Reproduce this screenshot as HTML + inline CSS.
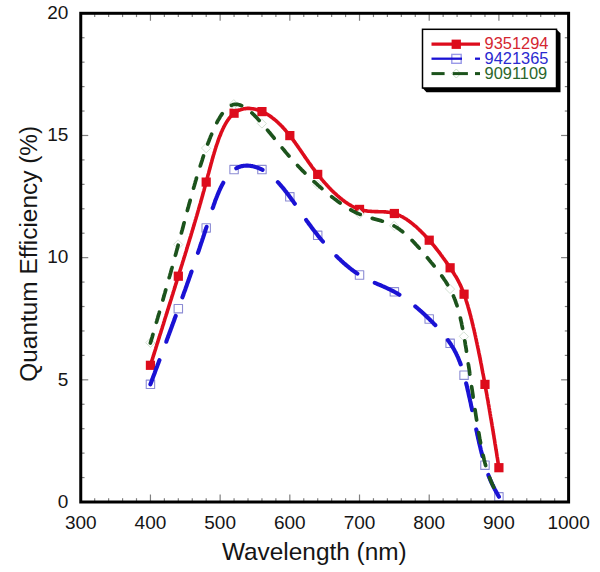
<!DOCTYPE html>
<html><head><meta charset="utf-8"><style>
html,body{margin:0;padding:0;background:#fff;}
svg{display:block;}
text{font-family:"Liberation Sans",sans-serif;}
</style></head><body>
<svg width="600" height="572" viewBox="0 0 600 572">
<rect width="600" height="572" fill="#fff"/>
<g stroke="#808080" stroke-width="1.2"><line x1="94.69" y1="502.00" x2="94.69" y2="498.20"/><line x1="94.69" y1="13.30" x2="94.69" y2="17.10"/><line x1="108.63" y1="502.00" x2="108.63" y2="498.20"/><line x1="108.63" y1="13.30" x2="108.63" y2="17.10"/><line x1="122.57" y1="502.00" x2="122.57" y2="498.20"/><line x1="122.57" y1="13.30" x2="122.57" y2="17.10"/><line x1="136.50" y1="502.00" x2="136.50" y2="498.20"/><line x1="136.50" y1="13.30" x2="136.50" y2="17.10"/><line x1="150.44" y1="502.00" x2="150.44" y2="494.50"/><line x1="150.44" y1="13.30" x2="150.44" y2="20.80"/><line x1="164.38" y1="502.00" x2="164.38" y2="498.20"/><line x1="164.38" y1="13.30" x2="164.38" y2="17.10"/><line x1="178.32" y1="502.00" x2="178.32" y2="498.20"/><line x1="178.32" y1="13.30" x2="178.32" y2="17.10"/><line x1="192.26" y1="502.00" x2="192.26" y2="498.20"/><line x1="192.26" y1="13.30" x2="192.26" y2="17.10"/><line x1="206.20" y1="502.00" x2="206.20" y2="498.20"/><line x1="206.20" y1="13.30" x2="206.20" y2="17.10"/><line x1="220.14" y1="502.00" x2="220.14" y2="494.50"/><line x1="220.14" y1="13.30" x2="220.14" y2="20.80"/><line x1="234.07" y1="502.00" x2="234.07" y2="498.20"/><line x1="234.07" y1="13.30" x2="234.07" y2="17.10"/><line x1="248.01" y1="502.00" x2="248.01" y2="498.20"/><line x1="248.01" y1="13.30" x2="248.01" y2="17.10"/><line x1="261.95" y1="502.00" x2="261.95" y2="498.20"/><line x1="261.95" y1="13.30" x2="261.95" y2="17.10"/><line x1="275.89" y1="502.00" x2="275.89" y2="498.20"/><line x1="275.89" y1="13.30" x2="275.89" y2="17.10"/><line x1="289.83" y1="502.00" x2="289.83" y2="494.50"/><line x1="289.83" y1="13.30" x2="289.83" y2="20.80"/><line x1="303.77" y1="502.00" x2="303.77" y2="498.20"/><line x1="303.77" y1="13.30" x2="303.77" y2="17.10"/><line x1="317.71" y1="502.00" x2="317.71" y2="498.20"/><line x1="317.71" y1="13.30" x2="317.71" y2="17.10"/><line x1="331.64" y1="502.00" x2="331.64" y2="498.20"/><line x1="331.64" y1="13.30" x2="331.64" y2="17.10"/><line x1="345.58" y1="502.00" x2="345.58" y2="498.20"/><line x1="345.58" y1="13.30" x2="345.58" y2="17.10"/><line x1="359.52" y1="502.00" x2="359.52" y2="494.50"/><line x1="359.52" y1="13.30" x2="359.52" y2="20.80"/><line x1="373.46" y1="502.00" x2="373.46" y2="498.20"/><line x1="373.46" y1="13.30" x2="373.46" y2="17.10"/><line x1="387.40" y1="502.00" x2="387.40" y2="498.20"/><line x1="387.40" y1="13.30" x2="387.40" y2="17.10"/><line x1="401.34" y1="502.00" x2="401.34" y2="498.20"/><line x1="401.34" y1="13.30" x2="401.34" y2="17.10"/><line x1="415.28" y1="502.00" x2="415.28" y2="498.20"/><line x1="415.28" y1="13.30" x2="415.28" y2="17.10"/><line x1="429.21" y1="502.00" x2="429.21" y2="494.50"/><line x1="429.21" y1="13.30" x2="429.21" y2="20.80"/><line x1="443.15" y1="502.00" x2="443.15" y2="498.20"/><line x1="443.15" y1="13.30" x2="443.15" y2="17.10"/><line x1="457.09" y1="502.00" x2="457.09" y2="498.20"/><line x1="457.09" y1="13.30" x2="457.09" y2="17.10"/><line x1="471.03" y1="502.00" x2="471.03" y2="498.20"/><line x1="471.03" y1="13.30" x2="471.03" y2="17.10"/><line x1="484.97" y1="502.00" x2="484.97" y2="498.20"/><line x1="484.97" y1="13.30" x2="484.97" y2="17.10"/><line x1="498.91" y1="502.00" x2="498.91" y2="494.50"/><line x1="498.91" y1="13.30" x2="498.91" y2="20.80"/><line x1="512.85" y1="502.00" x2="512.85" y2="498.20"/><line x1="512.85" y1="13.30" x2="512.85" y2="17.10"/><line x1="526.78" y1="502.00" x2="526.78" y2="498.20"/><line x1="526.78" y1="13.30" x2="526.78" y2="17.10"/><line x1="540.72" y1="502.00" x2="540.72" y2="498.20"/><line x1="540.72" y1="13.30" x2="540.72" y2="17.10"/><line x1="554.66" y1="502.00" x2="554.66" y2="498.20"/><line x1="554.66" y1="13.30" x2="554.66" y2="17.10"/><line x1="80.75" y1="477.56" x2="84.55" y2="477.56"/><line x1="568.60" y1="477.56" x2="564.80" y2="477.56"/><line x1="80.75" y1="453.13" x2="84.55" y2="453.13"/><line x1="568.60" y1="453.13" x2="564.80" y2="453.13"/><line x1="80.75" y1="428.69" x2="84.55" y2="428.69"/><line x1="568.60" y1="428.69" x2="564.80" y2="428.69"/><line x1="80.75" y1="404.26" x2="84.55" y2="404.26"/><line x1="568.60" y1="404.26" x2="564.80" y2="404.26"/><line x1="80.75" y1="379.82" x2="88.25" y2="379.82"/><line x1="568.60" y1="379.82" x2="561.10" y2="379.82"/><line x1="80.75" y1="355.39" x2="84.55" y2="355.39"/><line x1="568.60" y1="355.39" x2="564.80" y2="355.39"/><line x1="80.75" y1="330.95" x2="84.55" y2="330.95"/><line x1="568.60" y1="330.95" x2="564.80" y2="330.95"/><line x1="80.75" y1="306.52" x2="84.55" y2="306.52"/><line x1="568.60" y1="306.52" x2="564.80" y2="306.52"/><line x1="80.75" y1="282.08" x2="84.55" y2="282.08"/><line x1="568.60" y1="282.08" x2="564.80" y2="282.08"/><line x1="80.75" y1="257.65" x2="88.25" y2="257.65"/><line x1="568.60" y1="257.65" x2="561.10" y2="257.65"/><line x1="80.75" y1="233.22" x2="84.55" y2="233.22"/><line x1="568.60" y1="233.22" x2="564.80" y2="233.22"/><line x1="80.75" y1="208.78" x2="84.55" y2="208.78"/><line x1="568.60" y1="208.78" x2="564.80" y2="208.78"/><line x1="80.75" y1="184.35" x2="84.55" y2="184.35"/><line x1="568.60" y1="184.35" x2="564.80" y2="184.35"/><line x1="80.75" y1="159.91" x2="84.55" y2="159.91"/><line x1="568.60" y1="159.91" x2="564.80" y2="159.91"/><line x1="80.75" y1="135.48" x2="88.25" y2="135.48"/><line x1="568.60" y1="135.48" x2="561.10" y2="135.48"/><line x1="80.75" y1="111.04" x2="84.55" y2="111.04"/><line x1="568.60" y1="111.04" x2="564.80" y2="111.04"/><line x1="80.75" y1="86.61" x2="84.55" y2="86.61"/><line x1="568.60" y1="86.61" x2="564.80" y2="86.61"/><line x1="80.75" y1="62.17" x2="84.55" y2="62.17"/><line x1="568.60" y1="62.17" x2="564.80" y2="62.17"/><line x1="80.75" y1="37.74" x2="84.55" y2="37.74"/><line x1="568.60" y1="37.74" x2="564.80" y2="37.74"/></g>
<g fill="none" stroke-linejoin="round" stroke-linecap="round">
<path d="M150.4 365.3 L150.9 363.8 L151.4 362.3 L151.8 360.9 L152.3 359.4 L152.8 357.9 L153.2 356.4 L153.7 354.9 L154.2 353.4 L154.6 352.0 L155.1 350.5 L155.6 349.0 L156.0 347.5 L156.5 346.0 L156.9 344.5 L157.4 343.1 L157.9 341.6 L158.3 340.1 L158.8 338.6 L159.3 337.1 L159.7 335.6 L160.2 334.2 L160.7 332.7 L161.1 331.2 L161.6 329.7 L162.1 328.2 L162.5 326.7 L163.0 325.2 L163.5 323.8 L163.9 322.3 L164.4 320.8 L164.8 319.3 L165.3 317.8 L165.8 316.3 L166.2 314.8 L166.7 313.4 L167.2 311.9 L167.6 310.4 L168.1 308.9 L168.6 307.4 L169.0 305.9 L169.5 304.4 L170.0 302.9 L170.4 301.5 L170.9 300.0 L171.4 298.5 L171.8 297.0 L172.3 295.5 L172.8 294.0 L173.2 292.5 L173.7 291.0 L174.2 289.5 L174.6 288.1 L175.1 286.6 L175.5 285.1 L176.0 283.6 L176.5 282.1 L176.9 280.6 L177.4 279.1 L177.9 277.6 L178.3 276.1 L178.8 274.6 L179.3 273.1 L179.7 271.6 L180.2 270.1 L180.7 268.7 L181.1 267.2 L181.6 265.7 L182.1 264.2 L182.5 262.7 L183.0 261.2 L183.5 259.7 L183.9 258.2 L184.4 256.7 L184.9 255.2 L185.3 253.7 L185.8 252.2 L186.3 250.7 L186.7 249.1 L187.2 247.6 L187.6 246.1 L188.1 244.6 L188.6 243.1 L189.0 241.6 L189.5 240.1 L189.9 238.6 L190.4 237.1 L190.9 235.5 L191.3 234.0 L191.8 232.5 L192.2 231.0 L192.7 229.5 L193.2 227.9 L193.6 226.4 L194.1 224.9 L194.5 223.3 L195.0 221.8 L195.4 220.3 L195.9 218.7 L196.3 217.2 L196.8 215.7 L197.2 214.1 L197.7 212.6 L198.1 211.0 L198.6 209.5 L199.0 207.9 L199.5 206.4 L199.9 204.8 L200.4 203.3 L200.8 201.7 L201.2 200.1 L201.7 198.6 L202.1 197.0 L202.6 195.4 L203.0 193.8 L203.4 192.3 L203.9 190.7 L204.3 189.1 L204.7 187.5 L205.2 185.9 L205.6 184.4 L206.0 182.8 L206.4 181.2 L206.9 179.6 L207.3 178.0 L207.7 176.4 L208.1 174.8 L208.6 173.2 L209.0 171.6 L209.4 170.0 L209.9 168.4 L210.3 166.8 L210.7 165.2 L211.1 163.6 L211.6 162.0 L212.0 160.5 L212.4 158.9 L212.9 157.4 L213.3 155.8 L213.8 154.3 L214.2 152.8 L214.7 151.3 L215.1 149.8 L215.6 148.3 L216.0 146.8 L216.5 145.4 L217.0 144.0 L217.5 142.6 L218.0 141.2 L218.4 139.8 L218.9 138.4 L219.4 137.1 L220.0 135.8 L220.5 134.5 L221.0 133.2 L221.5 131.9 L222.1 130.7 L222.6 129.5 L223.2 128.3 L223.7 127.2 L224.3 126.1 L224.9 125.0 L225.5 123.9 L226.1 122.9 L226.7 121.9 L227.3 120.9 L227.9 120.0 L228.6 119.1 L229.2 118.2 L229.9 117.4 L230.6 116.6 L231.3 115.8 L232.0 115.1 L232.7 114.4 L233.4 113.7 L234.1 113.1 L234.9 112.6 L235.7 112.0 L236.4 111.6 L237.2 111.1 L238.0 110.7 L238.8 110.3 L239.6 110.0 L240.5 109.7 L241.3 109.4 L242.1 109.2 L243.0 109.0 L243.8 108.8 L244.7 108.7 L245.6 108.6 L246.4 108.5 L247.3 108.4 L248.2 108.4 L249.1 108.4 L250.0 108.5 L250.8 108.6 L251.7 108.7 L252.6 108.8 L253.5 108.9 L254.4 109.1 L255.3 109.3 L256.1 109.5 L257.0 109.8 L257.9 110.1 L258.8 110.4 L259.6 110.7 L260.5 111.0 L261.4 111.3 L262.2 111.7 L263.1 112.1 L263.9 112.5 L264.7 112.9 L265.6 113.4 L266.4 113.8 L267.2 114.3 L268.0 114.8 L268.8 115.3 L269.6 115.8 L270.4 116.4 L271.2 116.9 L272.0 117.5 L272.7 118.1 L273.5 118.7 L274.3 119.3 L275.0 119.9 L275.8 120.5 L276.5 121.2 L277.2 121.8 L278.0 122.5 L278.7 123.2 L279.4 123.9 L280.1 124.6 L280.8 125.3 L281.6 126.0 L282.3 126.8 L282.9 127.5 L283.6 128.3 L284.3 129.0 L285.0 129.8 L285.7 130.6 L286.3 131.3 L287.0 132.1 L287.7 132.9 L288.3 133.7 L289.0 134.5 L289.6 135.3 L290.3 136.2 L290.9 137.0 L291.5 137.8 L292.2 138.6 L292.8 139.5 L293.4 140.3 L294.0 141.2 L294.7 142.0 L295.3 142.9 L295.9 143.8 L296.5 144.6 L297.1 145.5 L297.7 146.4 L298.3 147.2 L298.9 148.1 L299.6 149.0 L300.2 149.9 L300.8 150.8 L301.4 151.7 L302.0 152.6 L302.6 153.5 L303.3 154.4 L303.9 155.3 L304.5 156.2 L305.1 157.2 L305.8 158.1 L306.4 159.0 L307.1 159.9 L307.7 160.9 L308.4 161.8 L309.0 162.7 L309.7 163.7 L310.4 164.6 L311.1 165.6 L311.7 166.5 L312.4 167.5 L313.1 168.4 L313.9 169.4 L314.6 170.4 L315.3 171.3 L316.0 172.3 L316.8 173.2 L317.6 174.2 L318.3 175.2 L319.1 176.1 L319.9 177.1 L320.7 178.1 L321.5 179.1 L322.3 180.0 L323.1 181.0 L324.0 182.0 L324.8 182.9 L325.7 183.9 L326.5 184.8 L327.4 185.8 L328.3 186.7 L329.1 187.6 L330.0 188.6 L330.9 189.5 L331.8 190.4 L332.7 191.3 L333.6 192.2 L334.5 193.0 L335.5 193.9 L336.4 194.7 L337.3 195.6 L338.3 196.4 L339.2 197.2 L340.2 198.0 L341.1 198.8 L342.1 199.5 L343.0 200.3 L344.0 201.0 L344.9 201.7 L345.9 202.4 L346.9 203.0 L347.8 203.7 L348.8 204.3 L349.8 204.9 L350.7 205.4 L351.7 206.0 L352.7 206.5 L353.7 207.0 L354.6 207.5 L355.6 207.9 L356.6 208.3 L357.6 208.7 L358.5 209.1 L359.5 209.4 L360.5 209.7 L361.4 210.0 L362.4 210.2 L363.4 210.4 L364.3 210.6 L365.3 210.8 L366.3 210.9 L367.2 211.0 L368.2 211.2 L369.2 211.3 L370.1 211.3 L371.1 211.4 L372.0 211.5 L373.0 211.5 L373.9 211.5 L374.9 211.6 L375.8 211.6 L376.8 211.6 L377.7 211.6 L378.7 211.7 L379.6 211.7 L380.6 211.7 L381.5 211.7 L382.4 211.8 L383.4 211.8 L384.3 211.9 L385.3 211.9 L386.2 212.0 L387.1 212.1 L388.1 212.2 L389.0 212.3 L389.9 212.5 L390.9 212.7 L391.8 212.8 L392.7 213.1 L393.7 213.3 L394.6 213.6 L395.5 213.9 L396.4 214.2 L397.4 214.5 L398.3 214.9 L399.2 215.3 L400.1 215.7 L401.0 216.2 L401.9 216.7 L402.9 217.1 L403.8 217.7 L404.7 218.2 L405.6 218.8 L406.5 219.3 L407.3 219.9 L408.2 220.5 L409.1 221.2 L410.0 221.8 L410.9 222.5 L411.7 223.2 L412.6 223.9 L413.5 224.6 L414.3 225.3 L415.2 226.0 L416.0 226.7 L416.9 227.5 L417.7 228.3 L418.5 229.0 L419.3 229.8 L420.2 230.6 L421.0 231.4 L421.8 232.2 L422.5 233.0 L423.3 233.8 L424.1 234.6 L424.9 235.4 L425.6 236.2 L426.4 237.0 L427.1 237.9 L427.9 238.7 L428.6 239.5 L429.3 240.3 L430.0 241.1 L430.7 241.9 L431.4 242.7 L432.1 243.5 L432.7 244.3 L433.4 245.1 L434.1 245.9 L434.7 246.7 L435.3 247.5 L436.0 248.3 L436.6 249.1 L437.2 249.9 L437.8 250.7 L438.4 251.4 L439.0 252.2 L439.6 253.0 L440.2 253.7 L440.7 254.5 L441.3 255.3 L441.9 256.0 L442.4 256.8 L442.9 257.5 L443.5 258.3 L444.0 259.0 L444.5 259.7 L445.1 260.5 L445.6 261.2 L446.1 261.9 L446.6 262.6 L447.1 263.3 L447.6 264.1 L448.1 264.8 L448.5 265.5 L449.0 266.2 L449.5 266.9 L449.9 267.5 L450.4 268.2 L450.9 268.9 L451.3 269.6 L451.8 270.2 L452.2 270.9 L452.7 271.6 L453.1 272.3 L453.5 272.9 L454.0 273.6 L454.4 274.3 L454.8 275.0 L455.2 275.6 L455.7 276.3 L456.1 277.0 L456.5 277.7 L456.9 278.4 L457.3 279.2 L457.7 279.9 L458.1 280.7 L458.5 281.4 L458.9 282.2 L459.3 283.0 L459.7 283.8 L460.1 284.6 L460.5 285.4 L460.9 286.3 L461.3 287.2 L461.6 288.1 L462.0 289.0 L462.4 289.9 L462.8 290.9 L463.2 291.9 L463.6 292.9 L464.0 293.9 L464.3 295.0 L464.7 296.1 L465.1 297.2 L465.5 298.3 L465.9 299.5 L466.2 300.7 L466.6 301.9 L467.0 303.1 L467.4 304.4 L467.8 305.6 L468.1 306.9 L468.5 308.3 L468.9 309.6 L469.3 311.0 L469.6 312.3 L470.0 313.7 L470.4 315.2 L470.8 316.6 L471.1 318.0 L471.5 319.5 L471.9 321.0 L472.2 322.5 L472.6 324.0 L473.0 325.5 L473.3 327.1 L473.7 328.6 L474.1 330.2 L474.4 331.7 L474.8 333.3 L475.1 334.9 L475.5 336.5 L475.8 338.1 L476.2 339.7 L476.5 341.4 L476.9 343.0 L477.2 344.6 L477.6 346.3 L477.9 347.9 L478.3 349.6 L478.6 351.3 L478.9 352.9 L479.3 354.6 L479.6 356.3 L480.0 357.9 L480.3 359.6 L480.6 361.3 L480.9 362.9 L481.3 364.6 L481.6 366.3 L481.9 368.0 L482.2 369.6 L482.5 371.3 L482.8 372.9 L483.2 374.6 L483.5 376.3 L483.8 377.9 L484.1 379.5 L484.4 381.2 L484.7 382.8 L485.0 384.4 L485.3 386.0 L485.6 387.6 L485.8 389.2 L486.1 390.8 L486.4 392.4 L486.7 394.0 L487.0 395.6 L487.2 397.1 L487.5 398.7 L487.8 400.2 L488.1 401.7 L488.3 403.3 L488.6 404.8 L488.9 406.3 L489.1 407.8 L489.4 409.3 L489.6 410.8 L489.9 412.3 L490.1 413.8 L490.4 415.3 L490.6 416.8 L490.9 418.3 L491.1 419.7 L491.4 421.2 L491.6 422.7 L491.9 424.1 L492.1 425.6 L492.4 427.0 L492.6 428.4 L492.8 429.9 L493.1 431.3 L493.3 432.7 L493.5 434.2 L493.8 435.6 L494.0 437.0 L494.2 438.4 L494.5 439.8 L494.7 441.3 L494.9 442.7 L495.1 444.1 L495.4 445.5 L495.6 446.9 L495.8 448.3 L496.0 449.7 L496.3 451.1 L496.5 452.5 L496.7 453.8 L496.9 455.2 L497.1 456.6 L497.4 458.0 L497.6 459.4 L497.8 460.8 L498.0 462.2 L498.2 463.5 L498.5 464.9 L498.7 466.3 L498.9 467.7" stroke="#dd0c1c" stroke-width="3.6"/>
<g fill="#dd0c1c" stroke="none"><rect x="145.84" y="360.70" width="9.2" height="9.2"/><rect x="173.72" y="271.60" width="9.2" height="9.2"/><rect x="201.60" y="177.50" width="9.2" height="9.2"/><rect x="229.47" y="108.60" width="9.2" height="9.2"/><rect x="257.35" y="107.00" width="9.2" height="9.2"/><rect x="285.23" y="131.00" width="9.2" height="9.2"/><rect x="313.11" y="169.80" width="9.2" height="9.2"/><rect x="354.92" y="204.80" width="9.2" height="9.2"/><rect x="389.77" y="208.90" width="9.2" height="9.2"/><rect x="424.61" y="235.60" width="9.2" height="9.2"/><rect x="445.52" y="263.20" width="9.2" height="9.2"/><rect x="459.46" y="289.60" width="9.2" height="9.2"/><rect x="480.37" y="379.80" width="9.2" height="9.2"/><rect x="494.31" y="463.10" width="9.2" height="9.2"/></g>
<g fill="#fff" stroke="#8c8cd4" stroke-width="1.1"><rect x="146.24" y="380.10" width="8.4" height="8.4"/><rect x="174.12" y="304.50" width="8.4" height="8.4"/><rect x="202.00" y="223.70" width="8.4" height="8.4"/><rect x="229.87" y="165.40" width="8.4" height="8.4"/><rect x="257.75" y="165.40" width="8.4" height="8.4"/><rect x="285.63" y="192.60" width="8.4" height="8.4"/><rect x="313.51" y="231.10" width="8.4" height="8.4"/><rect x="355.32" y="270.80" width="8.4" height="8.4"/><rect x="390.17" y="287.60" width="8.4" height="8.4"/><rect x="425.01" y="314.80" width="8.4" height="8.4"/><rect x="445.92" y="339.10" width="8.4" height="8.4"/><rect x="459.86" y="371.00" width="8.4" height="8.4"/><rect x="480.77" y="461.00" width="8.4" height="8.4"/><rect x="494.71" y="492.60" width="8.4" height="8.4"/></g>
<path d="M150.4 384.3 L150.9 383.0 L151.4 381.7 L151.9 380.4 L152.4 379.1 L152.8 377.9 L153.3 376.6 L153.8 375.3 L154.3 374.0 L154.8 372.7 L155.2 371.4 L155.7 370.1 L156.2 368.8 L156.7 367.5 L157.2 366.2 L157.6 365.0 L158.1 363.7 L158.6 362.4 L159.1 361.1 L159.6 359.8 L160.0 358.5 L160.5 357.2 L161.0 355.9 L161.5 354.6 L161.9 353.3 L162.4 352.0 L162.9 350.7 L163.4 349.5 L163.9 348.2 L164.3 346.9 L164.8 345.6 L165.3 344.3 L165.8 343.0 L166.3 341.7 L166.7 340.4 L167.2 339.1 L167.7 337.8 L168.2 336.5 L168.6 335.2 L169.1 333.9 L169.6 332.6 L170.1 331.3 L170.6 330.0 L171.0 328.7 L171.5 327.4 L172.0 326.1 L172.5 324.8 L172.9 323.5 L173.4 322.2 L173.9 320.9 L174.4 319.6 L174.8 318.3 L175.3 317.0 L175.8 315.7 L176.3 314.4 L176.7 313.1 L177.2 311.7 L177.7 310.4 L178.2 309.1 L178.6 307.8 L179.1 306.5 L179.6 305.2 L180.1 303.9 L180.5 302.6 L181.0 301.3 L181.5 299.9 L182.0 298.6 L182.4 297.3 L182.9 296.0 L183.4 294.7 L183.8 293.3 L184.3 292.0 L184.8 290.7 L185.3 289.4 L185.7 288.1 L186.2 286.7 L186.7 285.4 L187.1 284.1 L187.6 282.7 L188.1 281.4 L188.6 280.1 L189.0 278.8 L189.5 277.4 L190.0 276.1 L190.4 274.8 L190.9 273.4 L191.4 272.1 L191.8 270.7 L192.3 269.4 L192.8 268.1 L193.2 266.7 L193.7 265.4 L194.1 264.0 L194.6 262.7 L195.1 261.3 L195.5 260.0 L196.0 258.6 L196.5 257.3 L196.9 255.9 L197.4 254.6 L197.8 253.2 L198.3 251.8 L198.8 250.5 L199.2 249.1 L199.7 247.7 L200.1 246.4 L200.6 245.0 L201.0 243.6 L201.5 242.3 L202.0 240.9 L202.4 239.5 L202.9 238.1 L203.3 236.8 L203.8 235.4 L204.2 234.0 L204.7 232.6 L205.1 231.2 L205.6 229.8 L206.0 228.5 L206.5 227.1 L206.9 225.7 L207.4 224.3 L207.8 222.9 L208.3 221.5 L208.7 220.1 L209.2 218.7 L209.6 217.3 L210.1 215.9 L210.5 214.5 L211.0 213.2 L211.4 211.8 L211.9 210.4 L212.3 209.1 L212.8 207.7 L213.3 206.4 L213.7 205.1 L214.2 203.7 L214.7 202.4 L215.1 201.1 L215.6 199.8 L216.1 198.6 L216.6 197.3 L217.1 196.1 L217.6 194.8 L218.1 193.6 L218.6 192.4 L219.1 191.2 L219.6 190.1 L220.1 188.9 L220.7 187.8 L221.2 186.7 L221.8 185.6 L222.3 184.6 L222.9 183.5 L223.4 182.5 L224.0 181.5 L224.6 180.5 L225.2 179.6 L225.8 178.7 L226.4 177.8 L227.0 176.9 L227.6 176.1 L228.2 175.3 L228.9 174.5 L229.5 173.7 L230.2 173.0 L230.8 172.3 L231.5 171.7 L232.2 171.1 L232.9 170.5 L233.6 169.9 L234.3 169.4 L235.1 168.9 L235.8 168.5 L236.6 168.1 L237.3 167.7 L238.1 167.3 L238.9 167.0 L239.7 166.8 L240.5 166.5 L241.3 166.3 L242.1 166.1 L242.9 166.0 L243.7 165.8 L244.5 165.7 L245.4 165.7 L246.2 165.6 L247.0 165.6 L247.9 165.6 L248.7 165.7 L249.6 165.8 L250.4 165.9 L251.2 166.0 L252.1 166.1 L252.9 166.3 L253.8 166.5 L254.6 166.7 L255.4 166.9 L256.3 167.2 L257.1 167.5 L257.9 167.8 L258.8 168.1 L259.6 168.5 L260.4 168.8 L261.2 169.2 L262.0 169.6 L262.8 170.0 L263.6 170.5 L264.4 170.9 L265.1 171.4 L265.9 171.9 L266.7 172.4 L267.4 172.9 L268.2 173.5 L268.9 174.0 L269.7 174.6 L270.4 175.2 L271.1 175.8 L271.8 176.4 L272.6 177.0 L273.3 177.7 L274.0 178.3 L274.7 179.0 L275.4 179.6 L276.1 180.3 L276.7 181.0 L277.4 181.7 L278.1 182.4 L278.8 183.1 L279.4 183.9 L280.1 184.6 L280.7 185.3 L281.4 186.1 L282.0 186.9 L282.7 187.6 L283.3 188.4 L284.0 189.2 L284.6 190.0 L285.2 190.8 L285.9 191.6 L286.5 192.4 L287.1 193.2 L287.7 194.0 L288.3 194.8 L288.9 195.6 L289.5 196.4 L290.1 197.2 L290.7 198.0 L291.3 198.9 L291.9 199.7 L292.5 200.5 L293.1 201.3 L293.7 202.2 L294.3 203.0 L294.9 203.8 L295.5 204.7 L296.1 205.5 L296.6 206.3 L297.2 207.2 L297.8 208.0 L298.4 208.9 L299.0 209.7 L299.6 210.5 L300.2 211.4 L300.8 212.2 L301.4 213.1 L302.0 214.0 L302.5 214.8 L303.1 215.7 L303.8 216.5 L304.4 217.4 L305.0 218.3 L305.6 219.1 L306.2 220.0 L306.8 220.9 L307.4 221.7 L308.1 222.6 L308.7 223.5 L309.3 224.4 L310.0 225.2 L310.6 226.1 L311.3 227.0 L312.0 227.9 L312.6 228.8 L313.3 229.7 L314.0 230.6 L314.7 231.4 L315.4 232.3 L316.1 233.2 L316.8 234.1 L317.5 235.0 L318.2 235.9 L319.0 236.9 L319.7 237.8 L320.5 238.7 L321.2 239.6 L322.0 240.5 L322.8 241.4 L323.5 242.3 L324.3 243.2 L325.1 244.1 L325.9 245.0 L326.7 245.9 L327.5 246.8 L328.4 247.7 L329.2 248.6 L330.0 249.5 L330.8 250.4 L331.7 251.3 L332.5 252.2 L333.4 253.1 L334.2 253.9 L335.1 254.8 L335.9 255.7 L336.8 256.5 L337.7 257.4 L338.5 258.2 L339.4 259.0 L340.3 259.8 L341.2 260.7 L342.1 261.5 L342.9 262.3 L343.8 263.1 L344.7 263.8 L345.6 264.6 L346.5 265.4 L347.4 266.1 L348.3 266.8 L349.2 267.6 L350.1 268.3 L351.0 269.0 L351.8 269.7 L352.7 270.3 L353.6 271.0 L354.5 271.6 L355.4 272.3 L356.3 272.9 L357.2 273.5 L358.1 274.1 L359.0 274.7 L359.9 275.2 L360.7 275.7 L361.6 276.3 L362.5 276.8 L363.4 277.3 L364.3 277.8 L365.1 278.2 L366.0 278.7 L366.9 279.1 L367.7 279.6 L368.6 280.0 L369.5 280.4 L370.4 280.8 L371.2 281.2 L372.1 281.6 L372.9 282.0 L373.8 282.4 L374.7 282.8 L375.5 283.1 L376.4 283.5 L377.2 283.9 L378.1 284.3 L379.0 284.6 L379.8 285.0 L380.7 285.3 L381.5 285.7 L382.4 286.1 L383.2 286.4 L384.1 286.8 L384.9 287.2 L385.8 287.6 L386.7 288.0 L387.5 288.4 L388.4 288.8 L389.2 289.2 L390.1 289.6 L390.9 290.0 L391.8 290.4 L392.6 290.9 L393.5 291.3 L394.3 291.8 L395.2 292.3 L396.1 292.7 L396.9 293.2 L397.8 293.8 L398.6 294.3 L399.5 294.8 L400.3 295.4 L401.2 295.9 L402.0 296.5 L402.9 297.0 L403.7 297.6 L404.6 298.2 L405.4 298.8 L406.3 299.4 L407.1 300.0 L408.0 300.6 L408.8 301.3 L409.6 301.9 L410.5 302.5 L411.3 303.2 L412.1 303.8 L412.9 304.5 L413.7 305.1 L414.6 305.8 L415.4 306.5 L416.2 307.2 L417.0 307.8 L417.8 308.5 L418.6 309.2 L419.4 309.9 L420.1 310.6 L420.9 311.2 L421.7 311.9 L422.4 312.6 L423.2 313.3 L424.0 314.0 L424.7 314.7 L425.4 315.4 L426.2 316.1 L426.9 316.8 L427.6 317.5 L428.3 318.2 L429.1 318.8 L429.7 319.5 L430.4 320.2 L431.1 320.9 L431.8 321.6 L432.5 322.2 L433.1 322.9 L433.8 323.6 L434.4 324.3 L435.1 324.9 L435.7 325.6 L436.3 326.3 L436.9 326.9 L437.5 327.6 L438.2 328.2 L438.7 328.9 L439.3 329.6 L439.9 330.2 L440.5 330.9 L441.1 331.5 L441.6 332.2 L442.2 332.8 L442.7 333.5 L443.3 334.1 L443.8 334.8 L444.3 335.4 L444.8 336.1 L445.3 336.8 L445.9 337.4 L446.4 338.1 L446.8 338.7 L447.3 339.4 L447.8 340.0 L448.3 340.7 L448.8 341.3 L449.2 342.0 L449.7 342.6 L450.1 343.3 L450.6 343.9 L451.0 344.6 L451.4 345.3 L451.8 345.9 L452.3 346.6 L452.7 347.3 L453.1 347.9 L453.5 348.6 L453.9 349.3 L454.3 350.0 L454.7 350.7 L455.0 351.4 L455.4 352.1 L455.8 352.8 L456.2 353.6 L456.5 354.3 L456.9 355.1 L457.2 355.8 L457.6 356.6 L458.0 357.4 L458.3 358.2 L458.6 359.1 L459.0 359.9 L459.3 360.8 L459.7 361.6 L460.0 362.5 L460.3 363.4 L460.7 364.3 L461.0 365.3 L461.3 366.3 L461.7 367.2 L462.0 368.3 L462.3 369.3 L462.6 370.3 L463.0 371.4 L463.3 372.5 L463.6 373.6 L463.9 374.8 L464.3 376.0 L464.6 377.2 L464.9 378.4 L465.2 379.6 L465.6 380.9 L465.9 382.2 L466.2 383.5 L466.5 384.9 L466.9 386.2 L467.2 387.6 L467.5 389.0 L467.8 390.4 L468.2 391.8 L468.5 393.3 L468.8 394.7 L469.1 396.2 L469.5 397.7 L469.8 399.2 L470.1 400.7 L470.5 402.2 L470.8 403.7 L471.1 405.3 L471.4 406.8 L471.8 408.3 L472.1 409.9 L472.4 411.5 L472.8 413.0 L473.1 414.6 L473.4 416.2 L473.8 417.8 L474.1 419.3 L474.4 420.9 L474.8 422.5 L475.1 424.1 L475.4 425.6 L475.8 427.2 L476.1 428.8 L476.4 430.3 L476.8 431.9 L477.1 433.4 L477.4 435.0 L477.8 436.5 L478.1 438.1 L478.5 439.6 L478.8 441.1 L479.1 442.6 L479.5 444.1 L479.8 445.5 L480.2 447.0 L480.5 448.4 L480.8 449.8 L481.2 451.2 L481.5 452.6 L481.9 454.0 L482.2 455.4 L482.6 456.7 L482.9 458.0 L483.3 459.3 L483.6 460.6 L484.0 461.8 L484.3 463.0 L484.7 464.2 L485.0 465.4 L485.4 466.6 L485.7 467.7 L486.1 468.8 L486.5 469.8 L486.8 470.9 L487.2 471.9 L487.5 472.9 L487.9 473.9 L488.3 474.9 L488.6 475.8 L489.0 476.7 L489.3 477.6 L489.7 478.5 L490.1 479.4 L490.4 480.2 L490.8 481.1 L491.2 481.9 L491.5 482.7 L491.9 483.5 L492.3 484.3 L492.6 485.0 L493.0 485.8 L493.4 486.5 L493.7 487.3 L494.1 488.0 L494.5 488.7 L494.8 489.4 L495.2 490.1 L495.6 490.8 L495.9 491.5 L496.3 492.1 L496.7 492.8 L497.1 493.5 L497.4 494.2 L497.8 494.8 L498.2 495.5 L498.5 496.1 L498.9 496.8" stroke="#1a12d4" stroke-width="4.1" stroke-dasharray="27.5 19.7" stroke-dashoffset="1.75"/>
<g fill="#fff" stroke="#d4e2d4" stroke-width="1"><path d="M150.44 338.50 L154.94 343.00 L150.44 347.50 L145.94 343.00Z"/><path d="M178.32 240.10 L182.82 244.60 L178.32 249.10 L173.82 244.60Z"/><path d="M206.20 143.80 L210.70 148.30 L206.20 152.80 L201.70 148.30Z"/><path d="M234.07 99.90 L238.57 104.40 L234.07 108.90 L229.57 104.40Z"/><path d="M261.95 119.10 L266.45 123.60 L261.95 128.10 L257.45 123.60Z"/><path d="M317.71 180.40 L322.21 184.90 L317.71 189.40 L313.21 184.90Z"/><path d="M359.52 209.70 L364.02 214.20 L359.52 218.70 L355.02 214.20Z"/><path d="M394.37 221.60 L398.87 226.10 L394.37 230.60 L389.87 226.10Z"/><path d="M450.12 284.60 L454.62 289.10 L450.12 293.60 L445.62 289.10Z"/><path d="M464.06 332.10 L468.56 336.60 L464.06 341.10 L459.56 336.60Z"/></g>
<path d="M150.4 343.0 L150.9 341.4 L151.4 339.9 L151.8 338.3 L152.3 336.8 L152.7 335.2 L153.2 333.6 L153.6 332.1 L154.1 330.5 L154.5 328.9 L155.0 327.4 L155.4 325.8 L155.9 324.3 L156.3 322.7 L156.8 321.1 L157.2 319.6 L157.7 318.0 L158.1 316.4 L158.6 314.9 L159.1 313.3 L159.5 311.7 L160.0 310.2 L160.4 308.6 L160.9 307.1 L161.3 305.5 L161.8 303.9 L162.2 302.4 L162.7 300.8 L163.1 299.2 L163.5 297.7 L164.0 296.1 L164.4 294.5 L164.9 293.0 L165.3 291.4 L165.8 289.8 L166.2 288.3 L166.7 286.7 L167.1 285.1 L167.6 283.5 L168.0 282.0 L168.4 280.4 L168.9 278.8 L169.3 277.3 L169.8 275.7 L170.2 274.1 L170.7 272.5 L171.1 271.0 L171.5 269.4 L172.0 267.8 L172.4 266.2 L172.8 264.7 L173.3 263.1 L173.7 261.5 L174.1 259.9 L174.6 258.4 L175.0 256.8 L175.4 255.2 L175.9 253.6 L176.3 252.0 L176.7 250.5 L177.2 248.9 L177.6 247.3 L178.0 245.7 L178.4 244.1 L178.9 242.5 L179.3 240.9 L179.7 239.4 L180.1 237.8 L180.6 236.2 L181.0 234.6 L181.4 233.0 L181.8 231.4 L182.3 229.8 L182.7 228.2 L183.1 226.7 L183.5 225.1 L183.9 223.5 L184.4 221.9 L184.8 220.3 L185.2 218.7 L185.6 217.1 L186.1 215.6 L186.5 214.0 L186.9 212.4 L187.3 210.8 L187.7 209.2 L188.2 207.7 L188.6 206.1 L189.0 204.5 L189.5 202.9 L189.9 201.4 L190.3 199.8 L190.8 198.2 L191.2 196.6 L191.6 195.1 L192.1 193.5 L192.5 192.0 L192.9 190.4 L193.4 188.8 L193.8 187.3 L194.3 185.7 L194.7 184.2 L195.2 182.6 L195.6 181.1 L196.1 179.5 L196.5 178.0 L197.0 176.5 L197.5 174.9 L197.9 173.4 L198.4 171.9 L198.9 170.4 L199.3 168.8 L199.8 167.3 L200.3 165.8 L200.8 164.3 L201.3 162.8 L201.8 161.3 L202.3 159.8 L202.7 158.3 L203.2 156.8 L203.7 155.3 L204.3 153.8 L204.8 152.4 L205.3 150.9 L205.8 149.4 L206.3 148.0 L206.8 146.5 L207.4 145.1 L207.9 143.6 L208.4 142.2 L209.0 140.7 L209.5 139.3 L210.1 137.9 L210.6 136.5 L211.2 135.2 L211.8 133.8 L212.3 132.4 L212.9 131.1 L213.5 129.8 L214.1 128.5 L214.6 127.2 L215.2 126.0 L215.8 124.8 L216.4 123.6 L217.0 122.4 L217.6 121.2 L218.2 120.1 L218.9 119.0 L219.5 118.0 L220.1 116.9 L220.7 115.9 L221.4 115.0 L222.0 114.0 L222.7 113.1 L223.3 112.3 L224.0 111.4 L224.6 110.6 L225.3 109.9 L226.0 109.2 L226.7 108.5 L227.3 107.9 L228.0 107.3 L228.7 106.8 L229.4 106.3 L230.1 105.9 L230.8 105.5 L231.5 105.2 L232.3 104.9 L233.0 104.6 L233.7 104.5 L234.5 104.3 L235.2 104.3 L235.9 104.3 L236.7 104.3 L237.5 104.4 L238.2 104.5 L239.0 104.7 L239.7 104.9 L240.5 105.2 L241.3 105.5 L242.1 105.8 L242.8 106.2 L243.6 106.6 L244.4 107.1 L245.2 107.6 L246.0 108.1 L246.8 108.7 L247.6 109.3 L248.4 109.9 L249.1 110.5 L249.9 111.2 L250.7 111.9 L251.5 112.6 L252.3 113.3 L253.1 114.1 L253.9 114.8 L254.6 115.6 L255.4 116.4 L256.2 117.2 L257.0 118.1 L257.7 118.9 L258.5 119.7 L259.3 120.6 L260.0 121.4 L260.8 122.3 L261.5 123.1 L262.3 124.0 L263.0 124.8 L263.8 125.7 L264.5 126.6 L265.2 127.4 L266.0 128.3 L266.7 129.1 L267.4 130.0 L268.1 130.8 L268.8 131.7 L269.5 132.5 L270.2 133.3 L270.9 134.2 L271.6 135.0 L272.3 135.9 L273.0 136.7 L273.7 137.5 L274.3 138.4 L275.0 139.2 L275.7 140.0 L276.4 140.9 L277.0 141.7 L277.7 142.5 L278.4 143.3 L279.0 144.1 L279.7 144.9 L280.4 145.7 L281.0 146.5 L281.7 147.4 L282.3 148.1 L283.0 148.9 L283.7 149.7 L284.3 150.5 L285.0 151.3 L285.6 152.1 L286.3 152.9 L286.9 153.6 L287.6 154.4 L288.2 155.2 L288.9 155.9 L289.5 156.7 L290.2 157.4 L290.9 158.2 L291.5 158.9 L292.2 159.6 L292.8 160.4 L293.5 161.1 L294.1 161.8 L294.8 162.6 L295.5 163.3 L296.1 164.0 L296.8 164.7 L297.5 165.4 L298.1 166.1 L298.8 166.8 L299.5 167.5 L300.2 168.2 L300.9 168.9 L301.6 169.7 L302.3 170.4 L303.0 171.1 L303.7 171.8 L304.4 172.5 L305.1 173.2 L305.8 173.9 L306.5 174.6 L307.3 175.3 L308.0 176.0 L308.8 176.7 L309.5 177.4 L310.3 178.1 L311.0 178.8 L311.8 179.5 L312.6 180.3 L313.4 181.0 L314.1 181.7 L314.9 182.4 L315.8 183.2 L316.6 183.9 L317.4 184.6 L318.2 185.4 L319.1 186.1 L319.9 186.9 L320.8 187.6 L321.7 188.4 L322.5 189.1 L323.4 189.9 L324.3 190.6 L325.2 191.4 L326.1 192.2 L327.0 192.9 L327.9 193.7 L328.8 194.4 L329.8 195.2 L330.7 195.9 L331.6 196.7 L332.6 197.4 L333.5 198.1 L334.5 198.9 L335.4 199.6 L336.4 200.3 L337.3 201.0 L338.3 201.7 L339.3 202.4 L340.2 203.1 L341.2 203.8 L342.2 204.5 L343.2 205.1 L344.2 205.8 L345.1 206.4 L346.1 207.0 L347.1 207.7 L348.1 208.3 L349.1 208.9 L350.0 209.4 L351.0 210.0 L352.0 210.5 L353.0 211.1 L354.0 211.6 L355.0 212.1 L355.9 212.6 L356.9 213.0 L357.9 213.5 L358.9 213.9 L359.8 214.3 L360.8 214.7 L361.8 215.1 L362.7 215.5 L363.7 215.8 L364.7 216.1 L365.6 216.4 L366.6 216.7 L367.5 217.0 L368.5 217.3 L369.4 217.6 L370.4 217.9 L371.3 218.1 L372.2 218.4 L373.2 218.6 L374.1 218.9 L375.0 219.1 L376.0 219.4 L376.9 219.6 L377.8 219.9 L378.8 220.1 L379.7 220.4 L380.6 220.6 L381.5 220.9 L382.4 221.2 L383.3 221.5 L384.2 221.8 L385.2 222.1 L386.1 222.4 L387.0 222.7 L387.9 223.1 L388.8 223.4 L389.7 223.8 L390.6 224.2 L391.4 224.6 L392.3 225.0 L393.2 225.5 L394.1 226.0 L395.0 226.5 L395.9 227.0 L396.8 227.5 L397.6 228.1 L398.5 228.7 L399.4 229.3 L400.2 229.9 L401.1 230.6 L402.0 231.2 L402.8 231.9 L403.7 232.6 L404.6 233.3 L405.4 234.1 L406.3 234.8 L407.1 235.6 L407.9 236.4 L408.8 237.1 L409.6 237.9 L410.4 238.8 L411.3 239.6 L412.1 240.4 L412.9 241.2 L413.7 242.1 L414.5 242.9 L415.3 243.8 L416.1 244.7 L416.9 245.5 L417.7 246.4 L418.5 247.3 L419.3 248.2 L420.0 249.1 L420.8 249.9 L421.6 250.8 L422.3 251.7 L423.1 252.6 L423.8 253.5 L424.6 254.4 L425.3 255.2 L426.0 256.1 L426.7 257.0 L427.4 257.8 L428.2 258.7 L428.9 259.6 L429.5 260.4 L430.2 261.2 L430.9 262.1 L431.6 262.9 L432.3 263.7 L432.9 264.5 L433.6 265.3 L434.2 266.1 L434.9 266.9 L435.5 267.7 L436.1 268.5 L436.7 269.3 L437.3 270.1 L437.9 270.8 L438.5 271.6 L439.1 272.4 L439.7 273.2 L440.3 273.9 L440.9 274.7 L441.4 275.5 L442.0 276.2 L442.5 277.0 L443.1 277.7 L443.6 278.5 L444.1 279.3 L444.6 280.0 L445.2 280.8 L445.7 281.6 L446.2 282.3 L446.6 283.1 L447.1 283.9 L447.6 284.7 L448.1 285.4 L448.5 286.2 L449.0 287.0 L449.4 287.8 L449.9 288.6 L450.3 289.4 L450.7 290.2 L451.1 291.0 L451.5 291.8 L451.9 292.7 L452.3 293.5 L452.7 294.4 L453.1 295.2 L453.5 296.1 L453.8 296.9 L454.2 297.8 L454.5 298.7 L454.9 299.6 L455.2 300.5 L455.6 301.5 L455.9 302.4 L456.2 303.4 L456.6 304.3 L456.9 305.3 L457.2 306.3 L457.5 307.4 L457.8 308.4 L458.1 309.4 L458.4 310.5 L458.7 311.6 L459.0 312.7 L459.3 313.8 L459.6 314.9 L459.9 316.1 L460.2 317.3 L460.5 318.5 L460.7 319.7 L461.0 320.9 L461.3 322.2 L461.6 323.5 L461.8 324.8 L462.1 326.2 L462.4 327.5 L462.7 328.9 L462.9 330.3 L463.2 331.7 L463.5 333.2 L463.7 334.7 L464.0 336.2 L464.3 337.8 L464.5 339.3 L464.8 340.9 L465.1 342.6 L465.3 344.2 L465.6 345.9 L465.9 347.6 L466.2 349.3 L466.4 351.1 L466.7 352.8 L467.0 354.6 L467.2 356.4 L467.5 358.2 L467.8 360.1 L468.1 361.9 L468.3 363.8 L468.6 365.7 L468.9 367.6 L469.2 369.5 L469.5 371.4 L469.7 373.3 L470.0 375.3 L470.3 377.2 L470.6 379.2 L470.9 381.1 L471.1 383.1 L471.4 385.1 L471.7 387.0 L472.0 389.0 L472.3 391.0 L472.6 393.0 L472.9 395.0 L473.1 397.0 L473.4 399.0 L473.7 401.0 L474.0 402.9 L474.3 404.9 L474.6 406.9 L474.9 408.9 L475.2 410.8 L475.5 412.8 L475.8 414.7 L476.1 416.7 L476.4 418.6 L476.7 420.5 L477.0 422.4 L477.3 424.3 L477.6 426.2 L478.0 428.1 L478.3 429.9 L478.6 431.8 L478.9 433.6 L479.2 435.4 L479.5 437.2 L479.8 438.9 L480.2 440.7 L480.5 442.4 L480.8 444.1 L481.1 445.8 L481.5 447.4 L481.8 449.1 L482.1 450.7 L482.4 452.2 L482.8 453.8 L483.1 455.3 L483.5 456.8 L483.8 458.2 L484.1 459.7 L484.5 461.1 L484.8 462.4 L485.2 463.8 L485.5 465.1 L485.9 466.3 L486.2 467.6 L486.6 468.8 L486.9 469.9 L487.3 471.1 L487.6 472.2 L488.0 473.3 L488.4 474.3 L488.7 475.4 L489.1 476.4 L489.5 477.4 L489.8 478.3 L490.2 479.3 L490.6 480.2 L490.9 481.1 L491.3 482.0 L491.7 482.8 L492.1 483.7 L492.4 484.5 L492.8 485.3 L493.2 486.1 L493.6 486.9 L493.9 487.7 L494.3 488.4 L494.7 489.2 L495.1 489.9 L495.5 490.7 L495.8 491.4 L496.2 492.1 L496.6 492.8 L497.0 493.5 L497.4 494.2 L497.8 494.9 L498.1 495.6 L498.5 496.3 L498.9 497.0" stroke="#1c531c" stroke-width="3.7" stroke-dasharray="10.5 12.7" stroke-dashoffset="1.6"/>
</g>
<rect x="80.75" y="13.3" width="487.85" height="488.7" fill="none" stroke="#000" stroke-width="3"/>
<g font-size="19" fill="#151515"><text x="80.75" y="529.2" text-anchor="middle">300</text><text x="150.44" y="529.2" text-anchor="middle">400</text><text x="220.14" y="529.2" text-anchor="middle">500</text><text x="289.83" y="529.2" text-anchor="middle">600</text><text x="359.52" y="529.2" text-anchor="middle">700</text><text x="429.21" y="529.2" text-anchor="middle">800</text><text x="498.91" y="529.2" text-anchor="middle">900</text><text x="568.60" y="529.2" text-anchor="middle">1000</text><text x="68.3" y="507.70" text-anchor="end">0</text><text x="68.3" y="385.52" text-anchor="end">5</text><text x="68.3" y="263.35" text-anchor="end">10</text><text x="68.3" y="141.18" text-anchor="end">15</text><text x="68.3" y="19.00" text-anchor="end">20</text></g>
<text x="314.3" y="560.3" font-size="24.4" text-anchor="middle" fill="#151515">Wavelength (nm)</text>
<text transform="translate(36.5 253.8) rotate(-90)" font-size="24.4" text-anchor="middle" fill="#151515">Quantum Efficiency (%)</text>
<!-- legend -->
<polygon points="422.5,88 426.5,92.3 560.5,92.3 560.5,33.3 556.5,29.3 556.5,88" fill="#000"/>
<rect x="422.5" y="29.3" width="134" height="58.7" fill="#fff" stroke="#000" stroke-width="1.5"/>
<line x1="431.5" y1="44.1" x2="480" y2="44.1" stroke="#dd0c1c" stroke-width="3.3"/>
<rect x="451.6" y="39.6" width="9.3" height="9.3" fill="#dd0c1c"/>
<rect x="451.8" y="54.4" width="9.4" height="8.9" fill="#fff" stroke="#9a9ae8" stroke-width="1.4"/>
<line x1="431.5" y1="58.7" x2="462" y2="58.7" stroke="#1a12d4" stroke-width="2.3"/>
<line x1="475" y1="58.7" x2="480" y2="58.7" stroke="#1a12d4" stroke-width="2.3"/>
<path d="M456.3 69 L460.8 73.5 L456.3 78 L451.8 73.5Z" fill="#fff" stroke="#c8dcc8" stroke-width="1"/>
<g stroke="#1c531c" stroke-width="3">
<line x1="431.5" y1="73.6" x2="444.6" y2="73.6"/>
<line x1="452.8" y1="73.6" x2="467.9" y2="73.6"/>
<line x1="475" y1="73.6" x2="480" y2="73.6"/>
</g>
<g font-size="16.4">
<text x="484.6" y="48.9" fill="#d42630">9351294</text>
<text x="484.6" y="63.7" fill="#2a2ad0">9421365</text>
<text x="484.6" y="79" fill="#2b662b">9091109</text>
</g>
</svg>
</body></html>
